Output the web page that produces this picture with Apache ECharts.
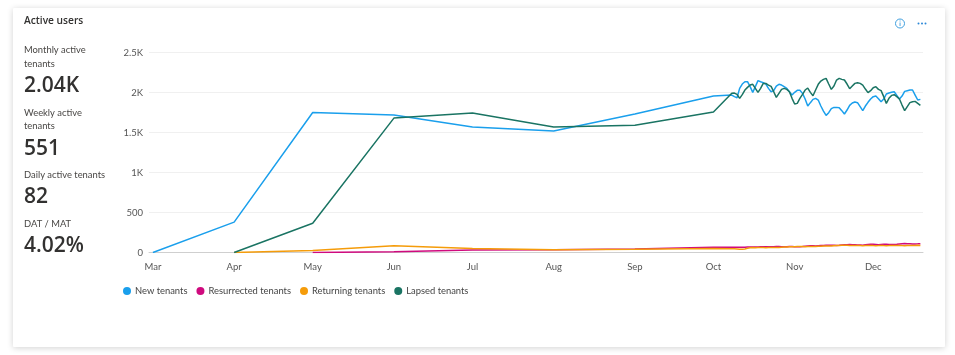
<!DOCTYPE html>
<html><head><meta charset="utf-8">
<style>html,body{margin:0;padding:0;background:#fff}#c{width:955px;height:355px}</style>
<script src="https://cdn.jsdelivr.net/npm/echarts@6/dist/echarts.min.js"></script>
</head><body><div id="c"></div>
<script>
const FONT = '"Open Sans","Noto Sans",sans-serif';
const FONT2 = 'Lato,"Open Sans",sans-serif';
const monthTicks = ['2023-03-01','2023-04-01','2023-05-01','2023-06-01','2023-07-01','2023-08-01','2023-09-01','2023-10-01','2023-11-01','2023-12-01'];
const yTickLabels = {0:'0',500:'500',1000:'1K',1500:'1.5K',2000:'2K',2500:'2.5K'};
const earlyDates = ['2023-03-01','2023-04-01','2023-05-01','2023-06-01','2023-07-01','2023-08-01','2023-09-01','2023-10-01','2023-10-08'];
const lateDates = [];
for (let d = new Date(Date.UTC(2023,9,9)); d <= new Date(Date.UTC(2023,11,19)); d.setUTCDate(d.getUTCDate()+1)) lateDates.push(d.toISOString().slice(0,10));
const dates = earlyDates.concat(lateDates);
const ts = s => Date.parse(s + 'T00:00:00Z');

const newTenants = [0,380,1750,1720,1570,1520,1730,1955,1968,
 1948,1935,2052,2106,2135,2135,2073,2002,2073,2148,2135,2123,2106,2052,2010,2023,2081,2102,2093,2073,2052,2010,1968,2002,2027,2027,1989,1918,1831,1873,1914,1927,1906,1831,1768,1714,1748,1798,1814,1814,1810,1773,1731,1781,1839,1868,1881,1873,1823,1773,1831,1877,1918,1948,1956,1923,1885,1918,1981,1993,2002,2010,1964,1918,1956,2014,2023,2031,2031,1968,1906,1914];
const lapsedTenants = [null,0,365,1680,1745,1570,1590,1755,1990,
 1993,1977,1927,1973,2031,2064,2093,2102,2052,2002,2052,2114,2114,2093,2077,2010,1939,1989,2039,2052,2039,2010,1927,1856,1864,1927,1977,2031,2056,2002,1960,2031,2102,2143,2164,2177,2106,2039,2081,2156,2177,2164,2156,2106,2048,2081,2114,2123,2114,2093,2043,1998,2023,2060,2073,2039,2023,1948,1864,1927,1964,1973,1948,1918,1843,1773,1823,1873,1885,1889,1864,1839];
const resurrectedTenants = [null,null,0,10,30,35,45,65,66,
 66,67,66,65,66,68,70,70,69,70,72,73,72,71,72,73,75,74,73,72,73,74,75,72,71,72,74,78,82,85,84,82,84,86,88,90,92,91,90,89,90,94,96,98,100,98,96,94,93,92,96,100,104,102,100,98,100,102,104,101,99,100,102,106,110,112,110,108,106,107,108,110,110];
const returningTenants = [null,0,25,85,50,35,40,50,48,
 46,44,42,40,45,52,60,62,60,62,64,62,60,62,64,63,62,64,66,68,70,72,72,73,74,75,74,72,74,76,74,76,78,78,80,80,82,80,84,86,88,90,92,90,88,86,86,88,86,84,86,88,88,86,85,86,88,86,85,86,88,87,86,88,86,85,86,87,86,88,90,88];
const toPairs = vals => dates.map((d,i) => [ts(d), vals[i] === undefined ? null : vals[i]]);

const seriesNames = ['New tenants','Resurrected tenants','Returning tenants','Lapsed tenants'];
const seriesColors = ['#1a9fec','#cf0a7e','#f59c0a','#1a7463'];
const seriesValues = [newTenants,resurrectedTenants,returningTenants,lapsedTenants];
const seriesZ = [5,3,4,6];

const statLabels = [['Monthly active',50],['tenants',63.5],['Weekly active',112.5],['tenants',126],['Daily active tenants',175],['DAT / MAT',224]];
const statValues = [['2.04K',86.5],['551',149],['82',197.5],['4.02%',246.5]];

const chart = echarts.init(document.getElementById('c'), null, {renderer:'canvas'});
const txt = (x,y,text,font,color) => ({type:'text',x,y,silent:true,style:{text,font,fill:color,verticalAlign:'middle'}});
chart.setOption({
  animation:false,
  backgroundColor:'#fff',
  textStyle:{fontFamily:FONT2},
  grid:{left:149,right:32,top:52.5,bottom:102.5,containLabel:false},
  xAxis:{type:'value',min:Date.parse('2023-02-27T12:00:00Z'),max:ts('2023-12-20'),
    axisLine:{onZero:false,lineStyle:{color:'#cfcfcf',width:1}},axisTick:{show:false},splitLine:{show:false},
    axisLabel:{customValues:monthTicks.map(ts),
      formatter:v=>new Date(v).toLocaleString('en-US',{month:'short',timeZone:'UTC'}),
      color:'#555',fontFamily:FONT2,fontSize:9.5,margin:9,hideOverlap:false,showMinLabel:true,showMaxLabel:true}},
  yAxis:{type:'value',min:0,max:2500,interval:500,axisLine:{show:false},axisTick:{show:false},
    splitLine:{lineStyle:{color:'#f0f0f0',width:1}},
    axisLabel:{formatter:v=>yTickLabels[v],color:'#555',fontFamily:FONT2,fontSize:9.5,margin:6,padding:[2,0,0,0]}},
  legend:{left:118,top:281.5,icon:'circle',itemWidth:8,itemHeight:8,itemGap:9,
    textStyle:{color:'#444',fontFamily:FONT2,fontSize:9.4,padding:[0,0,0,-1]},data:seriesNames},
  series:seriesNames.map((name,i)=>({name,type:'line',data:toPairs(seriesValues[i]),showSymbol:false,symbol:'none',
    z:seriesZ[i],lineStyle:{color:seriesColors[i],width:1.5},itemStyle:{color:seriesColors[i]}})),
  graphic:{elements:[
    {type:'rect',z:-10,silent:true,shape:{x:13,y:8,width:932,height:339,r:1},style:{fill:'#fff',shadowBlur:6,shadowColor:'rgba(0,0,0,0.18)',shadowOffsetY:1}},
    txt(24,21,'Active users',`600 10.2px ${FONT}`,'#323130'),
    ...statLabels.map(([t,y])=>txt(24,y,t,`400 9.4px ${FONT2}`,'#484644')),
    ...statValues.map(([t,y])=>txt(24,y,t,`600 21px ${FONT}`,'#323130')),
    {type:'circle',silent:true,shape:{cx:900,cy:23.5,r:4.5},style:{fill:'none',stroke:'#3f9fdf',lineWidth:1}},
    {type:'rect',silent:true,shape:{x:899.6,y:22.5,width:0.9,height:3.5},style:{fill:'#3f9fdf'}},
    {type:'rect',silent:true,shape:{x:899.6,y:20.5,width:0.9,height:1},style:{fill:'#3f9fdf'}},
    ...[918.5,922,925.5].map(cx=>({type:'circle',silent:true,shape:{cx,cy:23.5,r:1},style:{fill:'#2b88d8'}}))
  ]}
});
</script></body></html>
